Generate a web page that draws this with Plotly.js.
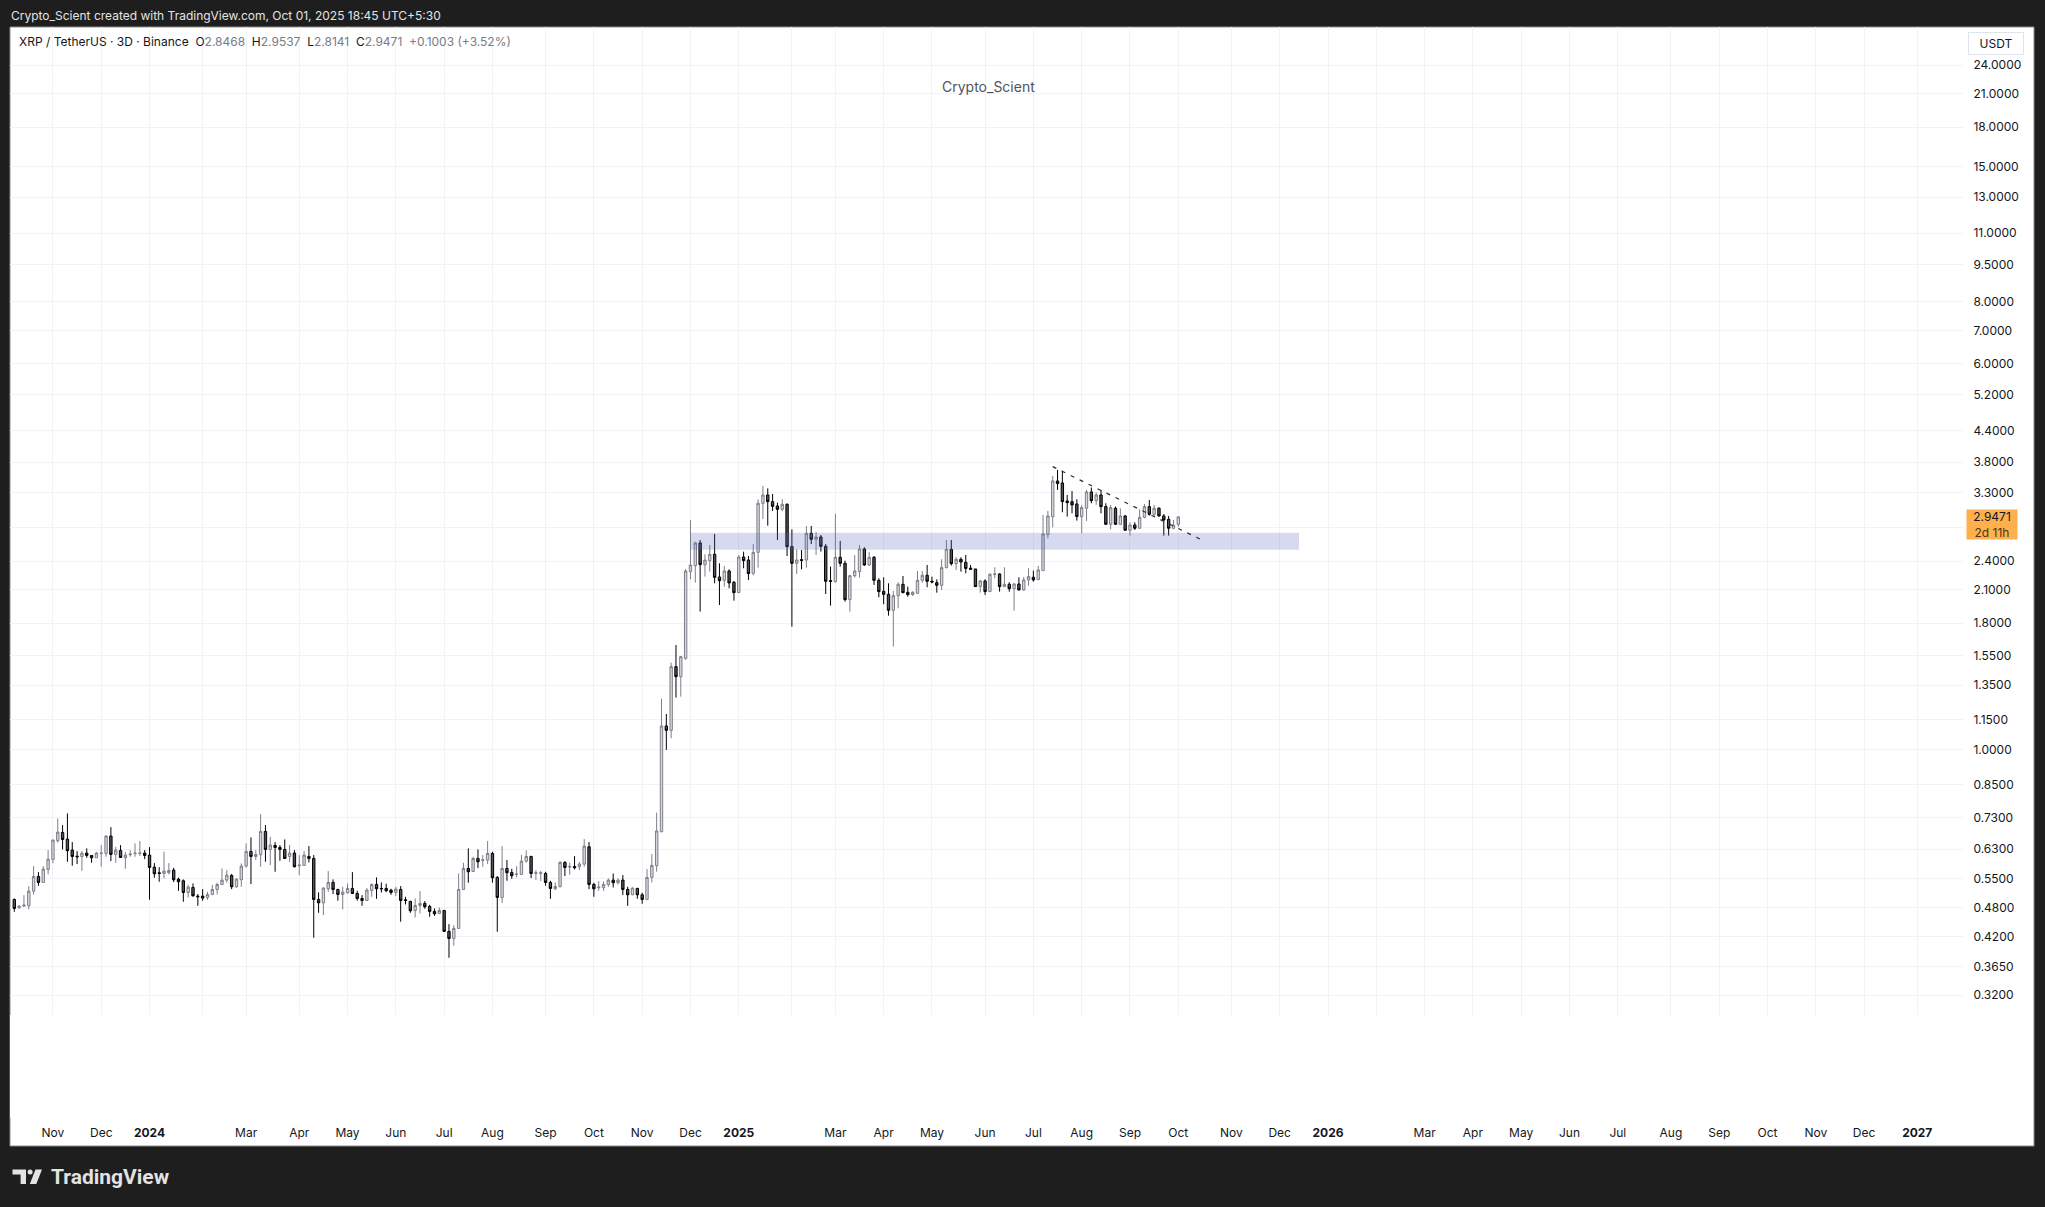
<!DOCTYPE html>
<html>
<head>
<meta charset="utf-8">
<script src="https://cdn.plot.ly/plotly-3.0.1.min.js"></script>
<style>
html,body{margin:0;padding:0;background:#1e1e1e;}
#chart{width:2045px;height:1207px;}
</style>
</head>
<body>
<div id="chart"></div>
<script>
// ---- data: XRP / TetherUS, 3D candles (Binance) ----
const firstBarDate = '2023-10-09';
const barDays = 3;

const open = [
.4990,.4801,.4838,.4845,.5187,.5553,.5400,.5736,.6008,.6553,
.6811,.6603,.6275,.6102,.6092,.6188,.6121,.6055,.6178,.6178,
.6696,.6150,.6265,.6055,.6140,.6178,.6178,.6188,.6131,.5798,
.5648,.5630,.5648,.5718,.5485,.5442,.5155,.5276,.5068,.5068,
.5037,.5107,.5227,.5350,.5459,.5578,.5292,.5468,.5825,.6236,
.6092,.6140,.6843,.6294,.6412,.6353,.6294,.6092,.6188,.5834,
.5844,.6092,.6036,.4990,.4913,.5243,.5400,.5227,.5107,.5147,
.5251,.5131,.5013,.4967,.5203,.5350,.5251,.5251,.5211,.5155,
.5227,.4983,.4944,.4742,.4853,.4898,.4830,.4720,.4676,.4742,
.4302,.4164,.4362,.5227,.5762,.5683,.6036,.5981,.5990,.6178,
.5527,.5037,.5762,.5656,.5604,.5604,.5962,.6092,.5630,.5630,
.5630,.5400,.5243,.5292,.5925,.5798,.5816,.5807,.5880,.6372,
.5350,.5268,.5268,.5350,.5459,.5392,.5459,.5227,.5099,.5251,
.5099,.4990,.5527,.5837,.6835,1.1165,1.0943,1.4706,1.4039,1.5285,
2.2857,2.3503,2.6111,2.3613,2.4055,2.4773,2.2298,2.1956,2.2928,2.1753,
2.0734,2.4468,2.4129,2.2681,2.5004,3.1390,3.2629,3.1635,3.1004,3.0528,
3.1243,2.5670,2.3759,2.4166,2.4129,2.7310,2.6559,2.6849,2.5710,2.1922,
2.1821,2.4430,2.3759,2.0071,2.2437,2.2857,2.5394,2.3576,2.4430,2.1956,
2.0862,2.0575,1.9102,2.0447,2.1553,2.0766,2.0543,2.0670,2.1956,2.2472,
2.1855,2.1719,2.1453,2.3286,2.5354,2.3722,2.4204,2.3870,2.3230,2.3145,
2.1322,2.1890,2.0833,2.2544,2.2614,2.1322,2.1554,2.1125,2.1587,2.0995,
2.1992,2.2266,2.2026,2.2966,2.7145,2.9510,3.4824,3.4501,3.1737,3.1638,
3.1297,2.9510,3.0674,3.3091,3.1786,3.2633,3.0912,2.8478,3.0674,2.8478,
2.9600,2.7695,2.8390,2.7954,2.9419,3.0912,2.9831,3.0674,2.9600,2.9147,
2.7954,2.8468
];
const high = [
.5013,.4860,.5091,.5308,.5825,.5665,.5825,.6275,.6593,.7268,
.7047,.7439,.6512,.6246,.6246,.6324,.6121,.6227,.6422,.6727,
.6981,.6372,.6422,.6217,.6275,.6472,.6543,.6275,.6362,.5907,
.5798,.6227,.5907,.5780,.5519,.5476,.5342,.5375,.5115,.5235,
.5171,.5334,.5392,.5762,.5718,.5613,.5502,.5898,.6472,.6655,
.6275,.7416,.7047,.6675,.6512,.6422,.6593,.6422,.6275,.6131,
.6246,.6392,.6131,.5155,.5284,.5692,.5476,.5243,.5292,.5375,
.5665,.5195,.5091,.5260,.5375,.5527,.5400,.5367,.5243,.5292,
.5308,.5052,.4960,.5013,.5187,.4952,.4868,.4786,.4808,.4749,
.4450,.4430,.5630,.5916,.6324,.6083,.6294,.6131,.6543,.6227,
.5561,.6392,.5990,.5754,.5825,.6131,.6265,.6111,.5718,.5700,
.5674,.5442,.5400,.5962,.5962,.5916,.6102,.5934,.6603,.6512,
.5392,.5434,.5425,.5502,.5630,.5502,.5587,.5292,.5276,.5268,
.5147,.5745,.6159,.7466,1.2676,1.1804,1.4981,1.6262,1.5452,2.3142,
2.9053,2.6273,2.6477,2.4773,2.5870,2.7226,2.3759,2.3467,2.3106,2.1888,
2.4696,2.5081,2.4582,2.5990,3.1978,3.4021,3.3655,3.2781,3.1488,3.1978,
3.1390,2.7821,2.5354,2.5276,2.8255,2.8255,2.7480,2.7099,2.5990,2.3394,
2.9920,2.6355,2.4055,2.2507,2.4696,2.5870,2.5591,2.5043,2.4582,2.2161,
2.2264,2.1652,2.0894,2.1753,2.2402,2.1320,2.0862,2.2928,2.2928,2.3576,
2.2333,2.2058,2.4204,2.6477,2.6477,2.4430,2.4430,2.4699,2.3579,2.3145,
2.1992,2.2060,2.2684,2.3325,2.2684,2.3325,2.1755,2.1654,2.2266,2.2301,
2.3217,2.2966,2.3469,2.9739,3.0296,3.5642,3.6648,3.6535,3.2633,3.3244,
3.1983,3.1153,3.3399,3.3764,3.2988,3.3399,3.1394,3.1153,3.0912,3.0674,
2.9739,2.8744,2.8744,3.0531,3.1297,3.1884,3.1153,3.0817,2.9877,2.9600,
2.9057,2.9537
];
const low = [
.4712,.4779,.4823,.4764,.5107,.5317,.5392,.5604,.5898,.6492,
.6294,.5944,.5834,.5880,.5700,.6055,.5916,.6055,.5807,.6083,
.5962,.5916,.6055,.5754,.6083,.6083,.6102,.6018,.4983,.5519,
.5417,.5502,.5604,.5409,.5195,.4937,.5037,.5052,.4845,.4960,
.4983,.5091,.5107,.5334,.5392,.5235,.5268,.5292,.5789,.5358,
.5990,.5807,.5944,.5853,.5674,.5971,.6018,.5944,.5789,.5587,
.5834,.5925,.4177,.4691,.4640,.5171,.5115,.4960,.4764,.5123,
.5115,.4960,.4845,.4952,.5052,.5005,.5155,.5163,.5099,.5068,
.4499,.4875,.4691,.4590,.4676,.4779,.4604,.4625,.4662,.4302,
.3806,.4025,.4362,.5219,.5392,.5674,.5771,.5807,.5880,.5392,
.4295,.4913,.5442,.5493,.5527,.5596,.5916,.5510,.5459,.5434,
.5317,.5005,.5211,.5284,.5561,.5596,.5736,.5718,.5807,.5235,
.5052,.5195,.5195,.5292,.5276,.5350,.5091,.4845,.5091,.5005,
.4891,.4983,.5400,.5677,.6814,.9988,1.0544,1.2735,1.2794,1.5168,
2.2058,2.1719,1.8983,2.2333,2.2857,2.1652,1.9580,2.1320,2.1155,1.9978,
2.0734,2.3214,2.1990,2.2472,2.3286,2.9188,2.8300,3.0293,2.6477,3.0247,
2.4582,1.7707,2.2611,2.3106,2.3286,2.5990,2.4696,2.5081,2.0606,1.9520,
2.1719,2.3394,1.9886,1.8983,2.2229,2.2229,2.3467,2.3467,2.1486,2.0290,
1.9641,1.8634,1.6136,1.9279,2.0670,2.0353,2.0415,2.0606,2.1719,2.1254,
2.1652,2.0734,2.0992,2.3214,2.3503,2.3035,2.2857,2.2684,2.3037,2.1322,
2.0736,2.0513,2.0833,2.2163,2.0833,2.1322,2.0833,1.9074,2.0930,2.0898,
2.1421,2.1822,2.1992,2.2966,2.6686,2.8084,3.3399,3.0110,2.9510,2.9970,
2.8967,2.7313,2.8923,3.1394,3.1153,2.9970,2.8390,2.7824,2.8390,2.8390,
2.7653,2.7019,2.7738,2.7954,2.9283,2.9647,2.9419,2.9510,2.7019,2.7019,
2.7824,2.8141
];
const close = [
.4786,.4838,.4860,.5187,.5553,.5400,.5745,.6018,.6573,.6821,
.6593,.6256,.6092,.6083,.6188,.6121,.6055,.6188,.6188,.6696,
.6150,.6275,.6064,.6131,.6159,.6188,.6188,.6121,.5789,.5621,
.5630,.5692,.5709,.5468,.5417,.5155,.5284,.5076,.5052,.5021,
.5107,.5227,.5350,.5459,.5587,.5292,.5485,.5825,.6236,.6092,
.6150,.6843,.6294,.6422,.6353,.6294,.6036,.6188,.5807,.5853,
.6131,.6036,.4990,.4913,.5260,.5400,.5227,.5107,.5163,.5251,
.5131,.5013,.4967,.5211,.5350,.5243,.5243,.5195,.5155,.5235,
.4967,.4967,.4734,.4853,.4898,.4823,.4720,.4669,.4742,.4302,
.4164,.4362,.5227,.5762,.5674,.6036,.5944,.5999,.6178,.5519,
.5037,.5762,.5648,.5570,.5613,.5962,.6092,.5630,.5648,.5648,
.5400,.5251,.5300,.5925,.5789,.5816,.5780,.5880,.6392,.5350,
.5243,.5284,.5350,.5459,.5392,.5459,.5227,.5099,.5260,.5099,
.4990,.5527,.5844,.6857,1.1165,1.0943,1.4706,1.4039,1.5404,2.2928,
2.3576,2.6111,2.3613,2.4129,2.4773,2.2264,2.1922,2.2928,2.1686,2.0734,
2.4468,2.4055,2.2646,2.5004,3.1390,3.2629,3.1635,3.0955,3.0528,3.1243,
2.5670,2.3759,2.4129,2.4092,2.7310,2.6559,2.6849,2.5710,2.1855,2.1855,
2.4430,2.3759,2.0071,2.2437,2.2928,2.5394,2.3576,2.4430,2.1956,2.0830,
2.0575,1.9102,2.0447,2.1553,2.0734,2.0543,2.0766,2.1956,2.2472,2.1855,
2.1787,2.1453,2.3286,2.5354,2.3722,2.4204,2.3906,2.3200,2.3109,2.1322,
2.1890,2.0833,2.2579,2.2614,2.1322,2.1554,2.1125,2.1587,2.0995,2.1992,
2.2335,2.1992,2.3037,2.7228,2.9600,3.4824,3.4395,3.1638,3.1492,3.1153,
2.9510,3.0770,3.3091,3.1786,3.2633,3.0912,2.8478,3.0770,2.8478,2.9600,
2.7695,2.8390,2.7954,2.9419,3.0912,2.9831,3.0674,2.9600,2.9057,2.7954,
2.8390,2.9471
];

// support / resistance zone and descending trendline (drawn by the author)
const zoneDates = ['2024-12-02', '2025-12-15'];
const zonePrices = [2.53, 2.737];
const trendDates = ['2025-07-15', '2025-10-15 12:00'];
const trendPrices = [3.722, 2.648];

// axis ticks
const xTickDates = ['2023-11-02','2023-12-02','2024-01-01','2024-02-03','2024-03-01','2024-04-03','2024-05-03','2024-06-02','2024-07-02','2024-08-01','2024-09-03','2024-10-03','2024-11-02','2024-12-02','2025-01-01','2025-02-03','2025-03-02','2025-04-01','2025-05-01','2025-06-03','2025-07-03','2025-08-02','2025-09-01','2025-10-01','2025-11-03','2025-12-03','2026-01-02','2026-02-01','2026-03-03','2026-04-02','2026-05-02','2026-06-01','2026-07-01','2026-08-03','2026-09-02','2026-10-02','2026-11-01','2026-12-01','2027-01-03'];
const xTickLabels = ['Nov','Dec','<b>2024</b>','','Mar','Apr','May','Jun','Jul','Aug','Sep','Oct','Nov','Dec','<b>2025</b>','','Mar','Apr','May','Jun','Jul','Aug','Sep','Oct','Nov','Dec','<b>2026</b>','','Mar','Apr','May','Jun','Jul','Aug','Sep','Oct','Nov','Dec','<b>2027</b>'];
const yTicks = [24,21,18,15,13,11,9.5,8,7,6,5.2,4.4,3.8,3.3,2.8,2.4,2.1,1.8,1.55,1.35,1.15,1,0.85,0.73,0.63,0.55,0.48,0.42,0.365,0.32];
const yTickLabels = ['24.0000','21.0000','18.0000','15.0000','13.0000','11.0000','9.5000','8.0000','7.0000','6.0000','5.2000','4.4000','3.8000','3.3000','','2.4000','2.1000','1.8000','1.5500','1.3500','1.1500','1.0000','0.8500','0.7300','0.6300','0.5500','0.4800','0.4200','0.3650','0.3200'];

const xRange = ['2023-10-06 08:00', '2027-01-31 10:00'];
const yRangeVals = [0.1809, 28.65];

// ---- build ----
const t0 = new Date(firstBarDate + 'T00:00:00Z').getTime();
const dates = open.map((_, i) => new Date(t0 + i * barDays * 86400000).toISOString().slice(0, 10));

// page geometry (pixels) for decorations outside the data
const PL = 10, PR = 1963, PT = 27, PB = 1118;
const px = x => (x - PL) / (PR - PL);
const py = y => (PB - y) / (PB - PT);
const pathOf = pts => 'M ' + pts.map(p => px(p[0]) + ',' + py(p[1])).join(' L ') + ' Z';

const zoneTrace = {
  type: 'scatter', mode: 'lines',
  x: [zoneDates[0], zoneDates[1], zoneDates[1], zoneDates[0], zoneDates[0]],
  y: [zonePrices[0], zonePrices[0], zonePrices[1], zonePrices[1], zonePrices[0]],
  fill: 'toself', fillcolor: 'rgba(86,100,190,0.24)',
  line: {width: 0, color: 'rgba(0,0,0,0)'}, hoverinfo: 'skip'
};
const candles = {
  type: 'candlestick', x: dates, open: open, high: high, low: low, close: close,
  increasing: {line: {color: '#7c7f88', width: 1}, fillcolor: '#d6d8de'},
  decreasing: {line: {color: '#000000', width: 1}, fillcolor: '#505359'},
  whiskerwidth: 0, hoverinfo: 'skip'
};
const trend = {
  type: 'scatter', mode: 'lines', x: trendDates, y: trendPrices,
  line: {color: '#2a2e39', width: 1.2, dash: '4px,6px'}, hoverinfo: 'skip'
};

const n = close.length - 1;
const chg = close[n] - open[n];
const pct = chg / open[n] * 100;
const g = s => '<span style="color:#787b86">' + s + '</span>';
const sp = '\u00a0\u00a0';
const legendText = 'XRP / TetherUS · 3D · Binance' + sp +
  'O' + g(open[n].toFixed(4)) + sp + 'H' + g(high[n].toFixed(4)) + sp +
  'L' + g(low[n].toFixed(4)) + sp + 'C' + g(close[n].toFixed(4)) + sp +
  g((chg >= 0 ? '+' : '') + chg.toFixed(4) + ' (' + (pct >= 0 ? '+' : '') + pct.toFixed(2) + '%)');

const FONT = 'Inter, Roboto, "Liberation Sans", sans-serif';

const layout = {
  width: 2045, height: 1207,
  margin: {l: PL, r: 2045 - PR, t: PT, b: 1207 - PB, pad: 0},
  paper_bgcolor: '#1e1e1e', plot_bgcolor: '#ffffff',
  showlegend: false,
  font: {family: FONT, size: 12, color: '#131722'},
  xaxis: {
    type: 'date', range: xRange, tickmode: 'array', tickvals: xTickDates, ticktext: xTickLabels,
    showgrid: true, gridcolor: '#f0f2f6', gridwidth: 1, zeroline: false, showline: false,
    ticks: 'outside', ticklen: 4, tickcolor: 'rgba(0,0,0,0)',
    tickfont: {family: FONT, size: 12, color: '#131722'},
    rangeslider: {visible: false}, fixedrange: true
  },
  yaxis: {
    type: 'log', side: 'right', range: yRangeVals.map(Math.log10),
    tickmode: 'array', tickvals: yTicks, ticktext: yTickLabels,
    showgrid: true, gridcolor: '#f0f2f6', gridwidth: 1, zeroline: false, showline: false,
    ticks: 'outside', ticklen: 7, tickcolor: 'rgba(0,0,0,0)',
    tickfont: {family: FONT, size: 12, color: '#131722'}, fixedrange: true
  },
  shapes: [
    // white chart frame (pane + scales)
    {type: 'rect', xref: 'paper', yref: 'paper', layer: 'below',
     x0: px(10), x1: px(2034), y0: py(1146), y1: py(27),
     fillcolor: '#ffffff', line: {color: '#8c8c8c', width: 1}},
    // bottom strip of the pane where the grid stops
    {type: 'rect', xref: 'paper', yref: 'paper', layer: 'above',
     x0: 0, x1: 1, y0: 0, y1: py(1015),
     fillcolor: '#ffffff', line: {width: 0}},
    // TradingView logo glyph
    {type: 'path', xref: 'paper', yref: 'paper', layer: 'above',
     path: pathOf([[12.5,1169.5],[26,1169.5],[26,1184],[20.6,1184],[20.6,1174.6],[12.5,1174.6]]),
     fillcolor: '#e3e3e3', line: {width: 0}},
    {type: 'circle', xref: 'paper', yref: 'paper', layer: 'above',
     x0: px(27.6), x1: px(32.6), y0: py(1174.6), y1: py(1169.6),
     fillcolor: '#e3e3e3', line: {width: 0}},
    {type: 'path', xref: 'paper', yref: 'paper', layer: 'above',
     path: pathOf([[35.5,1169.5],[42,1169.5],[36.3,1184],[29.8,1184]]),
     fillcolor: '#e3e3e3', line: {width: 0}}
  ],
  annotations: [
    {xref: 'paper', yref: 'paper', x: px(9), y: py(15.5), xanchor: 'left', yanchor: 'middle',
     text: 'Crypto_Scient created with TradingView.com, Oct 01, 2025 18:45 UTC+5:30',
     showarrow: false, font: {family: FONT, size: 12, color: '#e3e3e3'}},
    {xref: 'paper', yref: 'paper', x: px(17), y: py(42), xanchor: 'left', yanchor: 'middle',
     text: legendText, showarrow: false, font: {family: FONT, size: 12, color: '#131722'}},
    {xref: 'paper', yref: 'paper', x: px(988), y: py(86), xanchor: 'center', yanchor: 'middle',
     text: 'Crypto_Scient', showarrow: false, font: {family: FONT, size: 14, color: '#50535e'}},
    {xref: 'paper', yref: 'paper', x: px(1995.5), y: py(43), xanchor: 'center', yanchor: 'middle',
     text: 'USDT', showarrow: false, font: {family: FONT, size: 12, color: '#131722'},
     bgcolor: '#ffffff', bordercolor: '#e0e3eb', borderwidth: 1, borderpad: 3, width: 48},
    {xref: 'paper', yref: 'y', x: px(1966), y: Math.log10(close[n]), xanchor: 'left', yanchor: 'top',
     yshift: 8, text: close[n].toFixed(4) + '<br><span style="color:#4a3512">2d 11h</span>', align: 'center',
     showarrow: false, font: {family: FONT, size: 12, color: '#131722'},
     bgcolor: '#ffb04c', borderpad: 1, width: 48, height: 27},
    {xref: 'paper', yref: 'paper', x: px(49), y: py(1177), xanchor: 'left', yanchor: 'middle',
     text: '<b>TradingView</b>', showarrow: false,
     font: {family: 'Roboto, Inter, sans-serif', size: 21, color: '#e3e3e3'}}
  ]
};

Plotly.newPlot('chart', [zoneTrace, candles, trend], layout, {displayModeBar: false, staticPlot: true});
</script>
</body>
</html>
